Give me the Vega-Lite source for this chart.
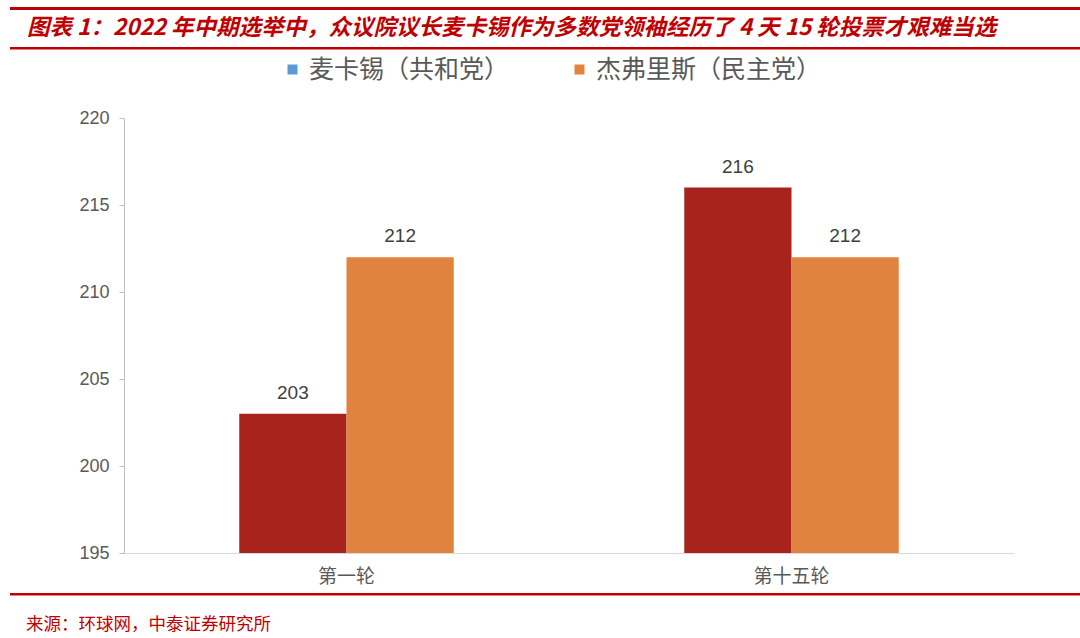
{
  "$schema": "https://vega.github.io/schema/vega-lite/v6.json",
  "background": "white",
  "padding": {"left": 10, "top": 7, "right": 0, "bottom": 0},
  "spacing": 7,
  "center": true,
  "resolve": {"legend": {"color": "independent"}, "scale": {"color": "independent"}},
  "config": {"view": {"stroke": null}, "font": "Noto Sans CJK SC"},
  "vconcat": [
    {
      "width": 1118,
      "height": 3,
      "view": {"fill": "#C00000", "stroke": null},
      "title": {
        "text": "图表 1：2022 年中期选举中，众议院议长麦卡锡作为多数党领袖经历了 4 天 15 轮投票才艰难当选",
        "orient": "bottom", "anchor": "start", "offset": 7, "dx": 17,
        "font": "Noto Sans CJK SC", "fontSize": 22.5, "fontWeight": "bold", "fontStyle": "italic", "color": "#C00000"
      },
      "data": {"values": []},
      "mark": "text",
      "encoding": {}
    },
    {
      "width": 1118,
      "height": 2.5,
      "view": {"fill": "#C00000", "stroke": null},
      "data": {"values": []},
      "mark": "text",
      "encoding": {}
    },
    {
      "width": 890,
      "height": 435,
      "data": {"values": [
        {"round": "第一轮", "party": "麦卡锡（共和党）", "votes": 203},
        {"round": "第一轮", "party": "杰弗里斯（民主党）", "votes": 212},
        {"round": "第十五轮", "party": "麦卡锡（共和党）", "votes": 216},
        {"round": "第十五轮", "party": "杰弗里斯（民主党）", "votes": 212}
      ]},
      "encoding": {
        "x": {
          "field": "round", "type": "nominal", "sort": ["第一轮", "第十五轮"],
          "scale": {"paddingInner": 0.518, "paddingOuter": 0.259},
          "axis": {"title": null, "ticks": false, "domainColor": "#d9d9d9", "labelFontSize": 19, "labelColor": "#595959", "labelPadding": 14, "labelAngle": 0}
        },
        "xOffset": {
          "field": "party", "type": "nominal", "sort": ["麦卡锡（共和党）", "杰弗里斯（民主党）"],
          "scale": {"paddingInner": 0}
        },
        "y": {
          "field": "votes", "type": "quantitative",
          "scale": {"domain": [195, 220], "zero": false, "nice": false},
          "axis": {"title": null, "values": [195, 200, 205, 210, 215, 220], "grid": false, "domainColor": "#bfbfbf", "tickColor": "#bfbfbf", "tickSize": 5, "labelFontSize": 18, "labelColor": "#595959", "labelFont": "Liberation Sans", "labelPadding": 10}
        }
      },
      "layer": [
        {
          "mark": {"type": "bar", "clip": true},
          "encoding": {
            "color": {
              "field": "party", "type": "nominal",
              "scale": {"domain": ["麦卡锡（共和党）", "杰弗里斯（民主党）"], "range": ["#A8231B", "#E0833F"]},
              "legend": {
                "title": null, "orient": "none", "legendX": 156, "legendY": -61, "direction": "horizontal",
                "gridAlign": "none",
                "symbolType": "square", "symbolSize": 16, "symbolStrokeWidth": 6,
                "labelFontSize": 25, "labelColor": "#595959", "labelFont": "Noto Sans CJK SC", "labelLimit": 400,
                "columnPadding": 55, "labelOffset": 4,
                "encode": {"symbols": {"update": {"stroke": {"signal": "datum.value === '麦卡锡（共和党）' ? '#5B9BD5' : '#E0833F'"}, "strokeWidth": {"value": 6}}}}
              }
            }
          }
        },
        {
          "mark": {"type": "text", "baseline": "alphabetic", "dy": -15, "fontSize": 19, "font": "Liberation Sans", "color": "#404040"},
          "encoding": {"text": {"field": "votes", "type": "quantitative"}}
        }
      ]
    },
    {
      "width": 1118,
      "height": 2.5,
      "view": {"fill": "#C00000", "stroke": null},
      "title": {
        "text": "来源：环球网，中泰证券研究所",
        "orient": "bottom", "anchor": "start", "offset": 20, "dx": 16,
        "font": "Noto Sans CJK SC", "fontSize": 17.5, "fontWeight": "normal", "color": "#C00000"
      },
      "data": {"values": []},
      "mark": "text",
      "encoding": {}
    }
  ]
}
